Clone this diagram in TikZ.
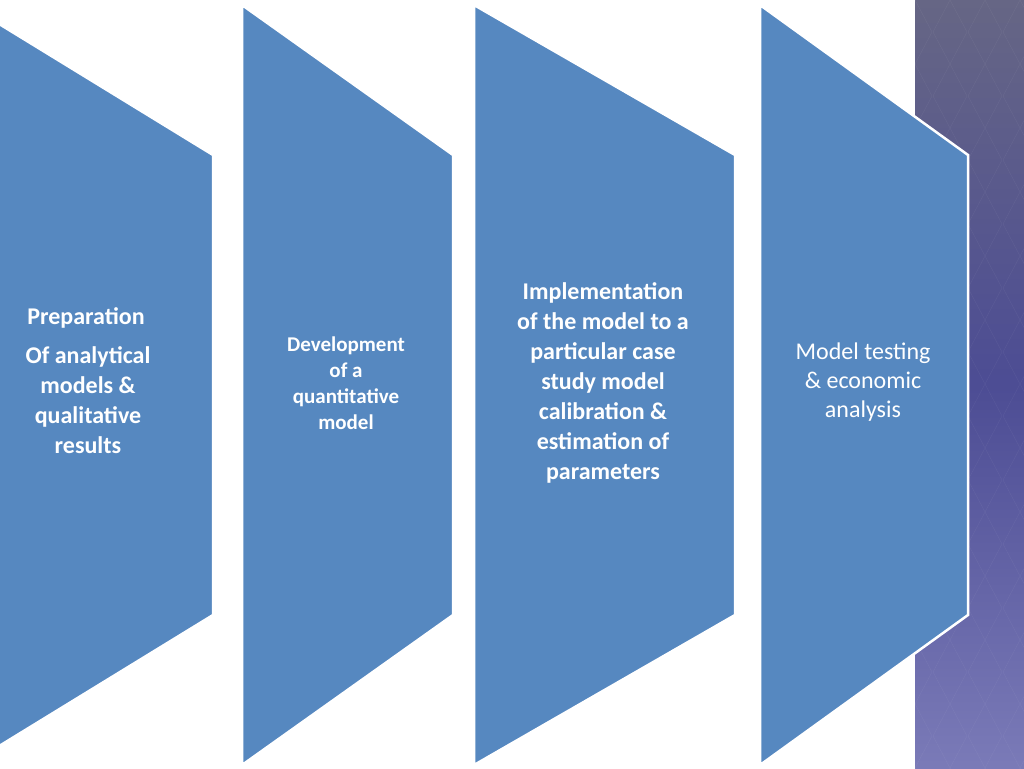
\documentclass[tikz,border=0pt]{standalone}
\usepackage{fontspec}
\setmainfont{Carlito}
\begin{document}
\begin{tikzpicture}[x=1pt,y=-1pt,
  chev/.style={fill=chevblue,draw=white,line width=2.5pt,line join=miter},
  lbl/.style={text=white,align=center,font=\bfseries\fontsize{24}{30}\selectfont}]
\definecolor{chevblue}{HTML}{5688C0}
\useasboundingbox (0,0) rectangle (1024,768);
\fill[white] (0,0) rectangle (1024,768);
\shade[top color=black!80!blue!60, bottom color=blue!30!gray!80, middle color=blue!40!black!70] (915,0) rectangle (1024,768);
\foreach \i in {0,...,12}{
  \foreach \j in {0,...,3}{
    \draw[white,opacity=0.06] (915+\j*35,\i*64) -- ++(17,32) -- ++(-17,32) -- ++(-17,-32) -- cycle;}}
\path[chev] (-40,0) -- (213,155) -- (213,615) -- (-40,770) -- cycle;
\path[chev] (242,5) -- (453,155) -- (453,615) -- (242,765) -- cycle;
\path[chev] (474,5) -- (735,155) -- (735,615) -- (474,765) -- cycle;
\path[chev] (760,5) -- (968,155) -- (968,615) -- (760,765) -- cycle;
\node[lbl] (p) at (86,318) {Preparation};
\node[lbl,anchor=north] (a) at (88,343) {Of analytical\\models \&\\qualitative\\results};
\node[lbl,font=\bfseries\fontsize{21}{26}\selectfont] (b) at (346,383) {Development\\of a\\quantitative\\model};
\node[lbl] (c) at (603,383) {Implementation\\of the model to a\\particular case\\study model\\calibration \&\\estimation of\\parameters};
\node[lbl,font=\fontsize{24}{29}\selectfont] (d) at (863,382) {Model testing\\\& economic\\analysis};
\end{tikzpicture}
\end{document}
